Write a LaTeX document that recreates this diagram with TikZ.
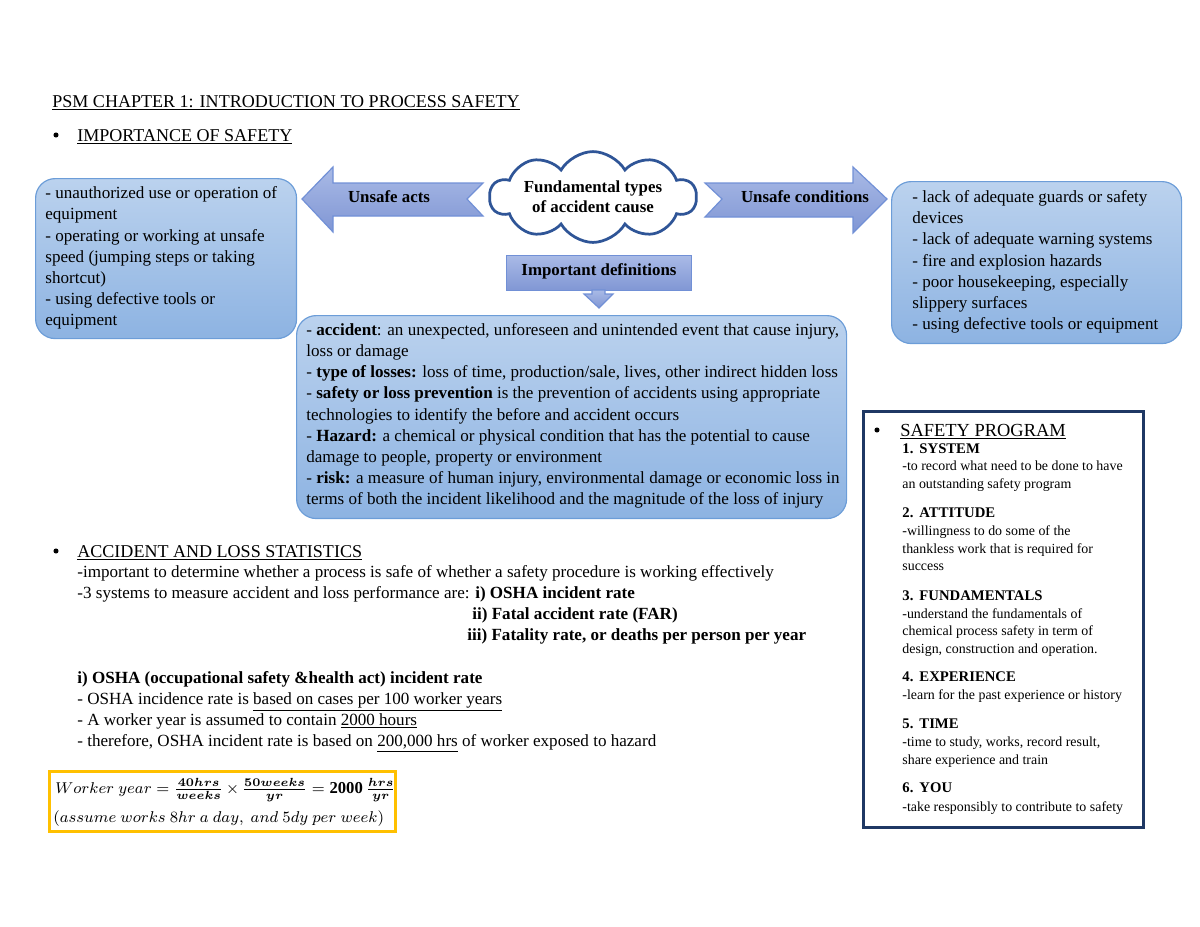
\documentclass[tikz,border=0pt]{standalone}
\usepackage{fontspec}
\usepackage{amsmath}
\usepackage{bm}
\setmainfont{Liberation Serif}
\usetikzlibrary{shapes.symbols}

\definecolor{boxtop}{HTML}{BBD2EE}
\definecolor{boxbot}{HTML}{8DB3E2}
\definecolor{boxline}{HTML}{6C9DD8}
\definecolor{arrtop}{HTML}{A9BAE6}
\definecolor{arrbot}{HTML}{8096D4}
\definecolor{arrline}{HTML}{7190D6}
\definecolor{cloudline}{HTML}{2F5597}
\definecolor{navy}{HTML}{1F3864}
\definecolor{gold}{HTML}{FFC000}

\newcommand{\headfont}{\fontsize{9.2}{11}\selectfont}
\newcommand{\boxfont}{\fontsize{8.7}{10.8}\selectfont}
\newcommand{\spfont}{\fontsize{7.1}{9.2}\selectfont}
\newcommand{\spnum}[1]{\makebox[8.7pt][l]{#1}}

\tikzset{
  bluebox/.style={draw=boxline, line width=0.6pt, rounded corners=10pt,
    top color=boxtop, bottom color=boxbot, anchor=north west, inner sep=0pt},
  boxtext/.style={anchor=west, align=left, font=\boxfont, inner sep=0pt},
  blockarrow/.style={draw=arrline, line width=0.6pt, top color=arrtop, bottom color=arrbot},
  arrowtext/.style={font=\fontsize{8.6}{10.4}\selectfont\bfseries, inner sep=0pt, align=center},
  txtline/.style={anchor=base west, inner sep=0pt, font=\boxfont},
  heading/.style={anchor=base west, inner sep=0pt, font=\headfont},
  sphead/.style={anchor=base west, inner sep=0pt, font=\fontsize{7.5}{9}\selectfont\bfseries},
  spline/.style={anchor=base west, inner sep=0pt, font=\spfont},
}

\begin{document}
\begin{tikzpicture}[x=0.51pt, y=-0.51pt]
  \useasboundingbox (0,0) rectangle (1200,927);

  % headings
  \node[heading] (title) at (52,107) {\underline{PSM CHAPTER 1: INTRODUCTION TO PROCESS SAFETY}};
  \fill (56,135) circle (1.3pt);
  \node[heading] (importance) at (77,141) {\underline{IMPORTANCE OF SAFETY}};

  % cloud with the two causes
  \node[cloud, draw=cloudline, line width=1.4pt, fill=white, cloud puffs=10,
        cloud puff arc=120, cloud ignores aspect, minimum width=94pt, minimum height=35pt,
        arrowtext, inner sep=2pt] (cause) at (593,197) {Fundamental types\\of accident cause};

  \draw[blockarrow] (302,199) -- (333,167) -- (333,183) -- (483,183) -- (467,199)
        -- (483,216) -- (333,216) -- (333,232) -- cycle;
  \node[arrowtext] (acts) at (389,197) {Unsafe acts};

  \draw[blockarrow] (705,183) -- (853,183) -- (853,167) -- (887,199) -- (853,233)
        -- (853,217) -- (705,217) -- (722,199) -- cycle;
  \node[arrowtext] (conditions) at (805,197) {Unsafe conditions};

  \node[bluebox, minimum width=133.1pt, minimum height=81.6pt] (actsbox) at (35,178) {};
  \node[boxtext] (actstext) at (45,258) {- unauthorized use or operation of\\equipment\\- operating or working at unsafe\\speed (jumping steps or taking\\shortcut)\\- using defective tools or\\equipment};

  \node[bluebox, minimum width=147.9pt, minimum height=82.6pt] (condbox) at (891,181) {};
  \node[boxtext] (condtext) at (912,262) {- lack of adequate guards or safety\\devices\\- lack of adequate warning systems\\- fire and explosion hazards\\- poor housekeeping, especially\\slippery surfaces\\- using defective tools or equipment};

  % definitions
  \node[blockarrow, rounded corners=0pt, anchor=north west, minimum width=94.4pt,
        minimum height=17.9pt, inner sep=0pt] (defs) at (506,255) {};
  \node[arrowtext] (defslabel) at (599,271) {Important definitions};
  \draw[blockarrow] (592,290) -- (605,290) -- (605,294) -- (613,294) -- (599,308)
        -- (584,294) -- (592,294) -- cycle;

  \node[bluebox, minimum width=280.5pt, minimum height=103.5pt] (defbox) at (296,315) {};
  \node[boxtext] (deftext) at (306,416) {- \textbf{accident}: an unexpected, unforeseen and unintended event that cause injury,\\loss or damage\\- \textbf{type of losses:} loss of time, production/sale, lives, other indirect hidden loss\\- \textbf{safety or loss prevention} is the prevention of accidents using appropriate\\technologies to identify the before and accident occurs\\- \textbf{Hazard:} a chemical or physical condition that has the potential to cause\\damage to people, property or environment\\- \textbf{risk:} a measure of human injury, environmental damage or economic loss in\\terms of both the incident likelihood and the magnitude of the loss of injury};

  % statistics
  \fill (56,551) circle (1.3pt);
  \node[heading] (stats) at (77,557) {\underline{ACCIDENT AND LOSS STATISTICS}};
  \node[txtline] (s1) at (77,577) {-important to determine whether a process is safe of whether a safety procedure is working effectively};
  \node[txtline] (s2) at (77,598) {-3 systems to measure accident and loss performance are: \textbf{i) OSHA incident rate}};
  \node[txtline] (s3) at (472,619) {\textbf{ii) Fatal accident rate (FAR)}};
  \node[txtline] (s4) at (467,640) {\textbf{iii) Fatality rate, or deaths per person per year}};

  \node[txtline] (o1) at (77,683) {\textbf{i) OSHA (occupational safety \&health act) incident rate}};
  \node[txtline] (o2) at (77,704) {- OSHA incidence rate is \underline{based on cases per 100 worker years}};
  \node[txtline] (o3) at (77,725) {- A worker year is assumed to contain \underline{2000 hours}};
  \node[txtline] (o4) at (77,746) {- therefore, OSHA incident rate is based on \underline{200,000 hrs} of worker exposed to hazard};

  \node[draw=gold, line width=1.5pt, anchor=north west, minimum width=176.5pt,
        minimum height=30.6pt, inner sep=0pt] (eqbox) at (48,770) {};
  \node[anchor=west, inner sep=0pt, font=\fontsize{8.5}{10}\selectfont] (eq) at (55,790)
    {$Worker\ year = \frac{\bm{40hrs}}{\bm{weeks}}\,{\times}\,\frac{\bm{50weeks}}{\bm{yr}} = \mathbf{2000}\,\frac{\bm{hrs}}{\bm{yr}}$};
  \node[txtline, font=\fontsize{8.5}{10}\selectfont] (assume) at (53,822)
    {$(assume\ works\ 8hr\ a\ day,\ and\ 5dy\ per\ week)$};

  % safety program
  \node[draw=navy, line width=1.5pt, anchor=north west, minimum width=142.8pt,
        minimum height=212.2pt, inner sep=0pt] (spbox) at (862,410) {};
  \fill (877,430) circle (1.3pt);
  \node[heading, font=\fontsize{9.4}{11}\selectfont] (sp) at (900,436) {\underline{SAFETY PROGRAM}};

  \node[sphead] (p1) at (902,453) {\spnum{1.}SYSTEM};
  \node[spline] (d1a) at (902,470) {-to record what need to be done to have};
  \node[spline] (d1b) at (902,488) {an outstanding safety program};

  \node[sphead] (p2) at (902,517) {\spnum{2.}ATTITUDE};
  \node[spline] (d2a) at (902,535) {-willingness to do some of the};
  \node[spline] (d2b) at (902,553) {thankless work that is required for};
  \node[spline] (d2c) at (902,570) {success};

  \node[sphead] (p3) at (902,600) {\spnum{3.}FUNDAMENTALS};
  \node[spline] (d3a) at (902,618) {-understand the fundamentals of};
  \node[spline] (d3b) at (902,635) {chemical process safety in term of};
  \node[spline] (d3c) at (902,653) {design, construction and operation.};

  \node[sphead] (p4) at (902,681) {\spnum{4.}EXPERIENCE};
  \node[spline] (d4a) at (902,699) {-learn for the past experience or history};

  \node[sphead] (p5) at (902,728) {\spnum{5.}TIME};
  \node[spline] (d5a) at (902,746) {-time to study, works, record result,};
  \node[spline] (d5b) at (902,764) {share experience and train};

  \node[sphead] (p6) at (902,792) {\spnum{6.}YOU};
  \node[spline] (d6a) at (902,811) {-take responsibly to contribute to safety};
\end{tikzpicture}
\end{document}
